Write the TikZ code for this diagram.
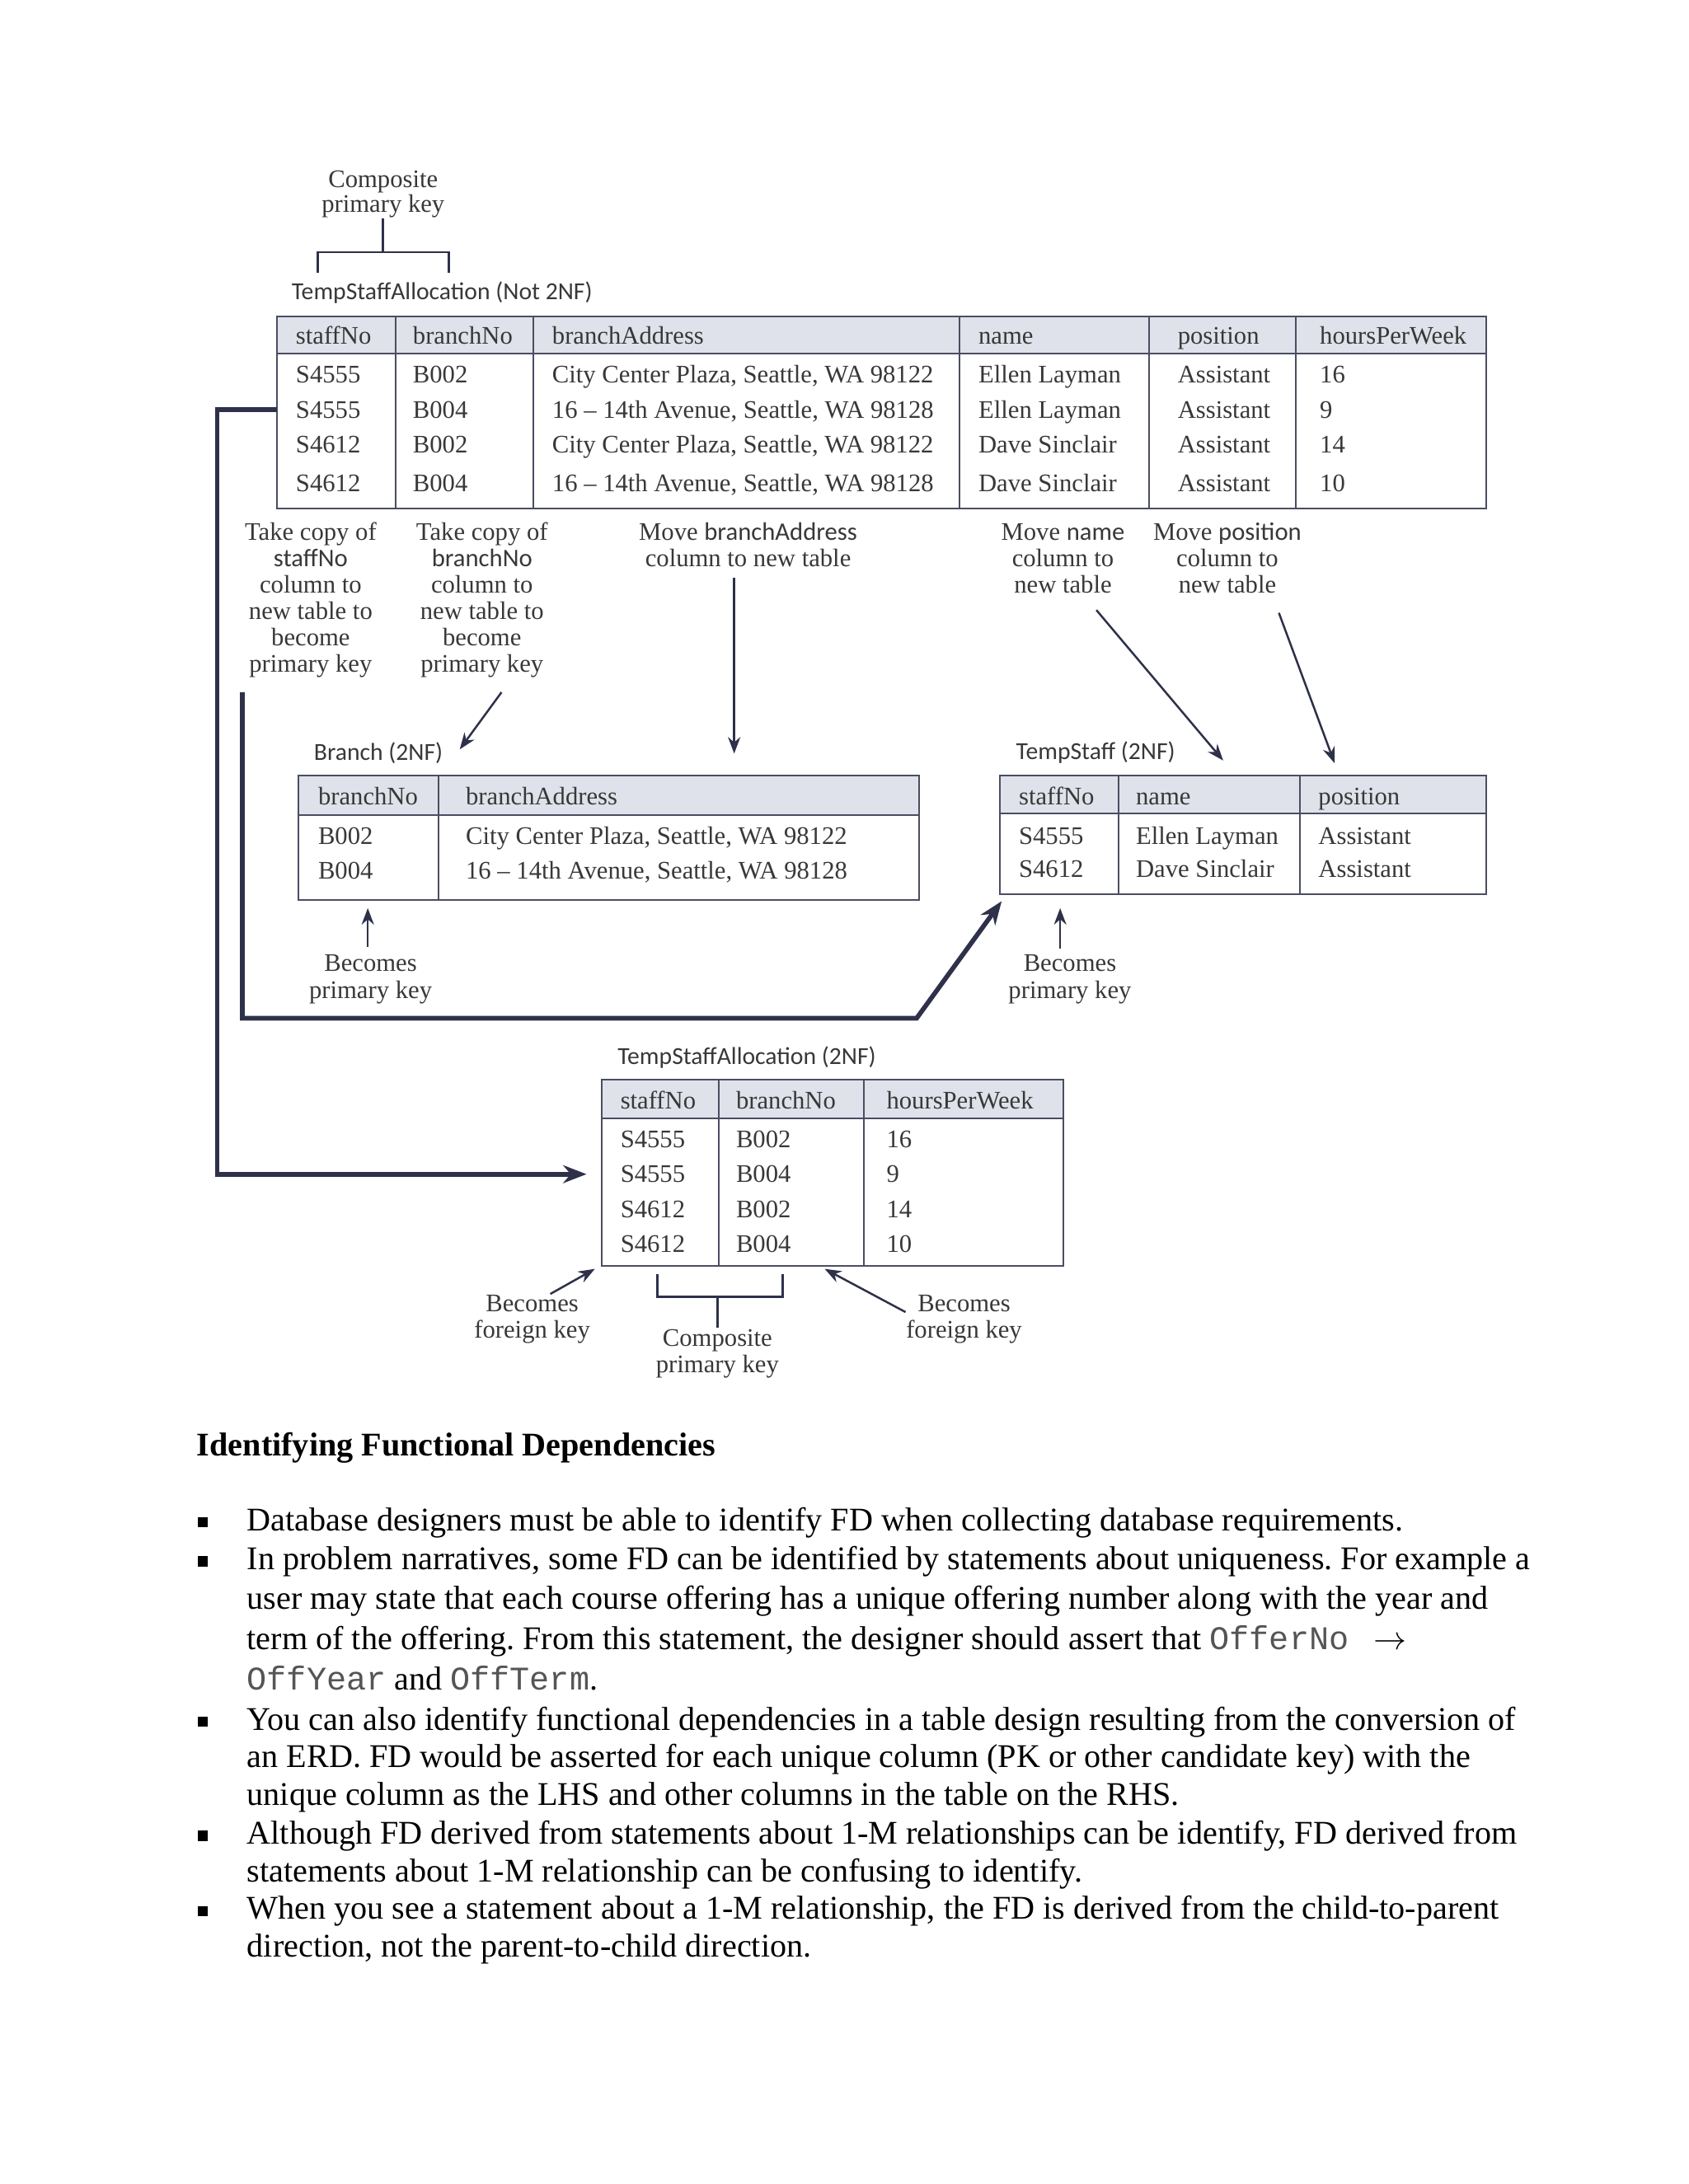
\documentclass[tikz,border=0pt]{standalone}
\usepackage{fontspec}
\setmainfont{Liberation Serif}
\newfontfamily\sansf{Carlito}
\newfontfamily\monof{Liberation Mono}
\usetikzlibrary{arrows.meta}
\definecolor{lnc}{HTML}{2E3149}
\definecolor{tbl}{HTML}{4B4D62}
\definecolor{hdr}{HTML}{DFE2EA}
\definecolor{txc}{HTML}{383838}
\definecolor{monoc}{HTML}{555555}
\frenchspacing
\begin{document}
\begin{tikzpicture}[x=0.507pt,y=-0.507pt,
  dfont/.style={font=\fontsize{9.2pt}{9.63pt}\selectfont},
  cell/.style={anchor=base west,inner sep=0pt,dfont,text=txc},
  ttl/.style={anchor=base west,inner sep=0pt,font=\sansf\fontsize{8.9pt}{9.6pt}\selectfont,text=txc},
  ann/.style={anchor=north,inner sep=0pt,align=center,dfont,text=txc},
  tline/.style={draw=tbl,line width=0.6pt},
  arr/.style={draw=lnc,line width=0.75pt,-{Stealth[length=6pt,width=4.5pt]}},
  thk/.style={draw=lnc,line width=1.7pt},
  thkarr/.style={thk,-{Stealth[length=8.5pt,width=6.5pt]}},
  body/.style={anchor=base west,inner sep=0pt,font=\frenchspacing\fontsize{12.045pt}{14pt}\selectfont,text=black},
  bul/.style={fill=black}
]
\useasboundingbox[fill=white] (0,0) rectangle (1212,1568);

% ---------- top composite key ----------
\node[ann] (ck1) at (275,121.6) {\vphantom{l}Composite\\[-0.6pt]primary key};
\coordinate (ck1s) at (275,157);
\coordinate (ck1m) at (275,181);
\coordinate (ck1l) at (228,196);
\coordinate (ck1r) at (322,196);
\draw[draw=lnc,line width=0.8pt] (ck1s) -- (ck1m);
\draw[draw=lnc,line width=0.8pt] (ck1l) |- (ck1m) -| (ck1r);

% ---------- Table 1 ----------
\node[ttl] (t1t) at (209,215) {TempStaffAllocation (Not 2NF)};
\fill[hdr] (199,227) rectangle (1067,254);
\draw[tline] (199,227) rectangle (1067,365);
\draw[tline] (199,254) -- (1067,254);
\foreach \x in {284,383,689,825,930} \draw[tline] (\x,227) -- (\x,365);
\node[cell] (h11) at (212,247) {staffNo};
\node[cell] (h12) at (296,247) {branchNo};
\node[cell] (h13) at (396,247) {branchAddress};
\node[cell] (h14) at (702,247) {name};
\node[cell] (h15) at (845,247) {position};
\node[cell] (h16) at (947,247) {hoursPerWeek};
\foreach \y/\s/\b/\a/\n/\h in {
 275/S4555/B002/{City Center Plaza, Seattle, WA 98122}/Ellen Layman/16,
 300/S4555/B004/{16 – 14th Avenue, Seattle, WA 98128}/Ellen Layman/9,
 325/S4612/B002/{City Center Plaza, Seattle, WA 98122}/Dave Sinclair/14,
 353/S4612/B004/{16 – 14th Avenue, Seattle, WA 98128}/Dave Sinclair/10}{
  \node[cell] at (212,\y) {\s};
  \node[cell] at (296,\y) {\b};
  \node[cell] at (396,\y) {\a};
  \node[cell] at (702,\y) {\n};
  \node[cell] at (845,\y) {Assistant};
  \node[cell] at (947,\y) {\h};
}

% ---------- annotations under table 1 ----------
\node[ann] (a1) at (223,374.6) {\vphantom{l}Take copy of\\{\sansf staffNo}\\column to\\new table to\\become\\primary key};
\node[ann] (a2) at (346,374.6) {\vphantom{l}Take copy of\\{\sansf branchNo}\\column to\\new table to\\become\\primary key};
\node[ann] (a3) at (537,374.6) {\vphantom{l}Move {\sansf branchAddress}\\column to new table};
\node[ann] (a4) at (763,374.6) {\vphantom{l}Move {\sansf name}\\column to\\new table};
\node[ann] (a5) at (881,374.6) {\vphantom{l}Move {\sansf position}\\column to\\new table};

\coordinate (a2s) at (360,497);  \coordinate (a2e) at (330,538);
\coordinate (a3s) at (527,415);  \coordinate (a3e) at (527,541);
\coordinate (a4s) at (787,438);  \coordinate (a4e) at (878,546);
\coordinate (a5s) at (918,440);  \coordinate (a5e) at (958,548);
\draw[arr] (a2s) -- (a2e);
\draw[arr] (a3s) -- (a3e);
\draw[arr] (a4s) -- (a4e);
\draw[arr] (a5s) -- (a5e);

% ---------- Branch table ----------
\node[ttl] (t2t) at (225,546) {Branch (2NF)};
\fill[hdr] (214,557) rectangle (660,585);
\draw[tline] (214,557) rectangle (660,646);
\draw[tline] (214,585) -- (660,585);
\draw[tline] (315,557) -- (315,646);
\node[cell] at (228,578) {branchNo};
\node[cell] at (334,578) {branchAddress};
\node[cell] at (228,606) {B002};
\node[cell] at (334,606) {City Center Plaza, Seattle, WA 98122};
\node[cell] at (228,631) {B004};
\node[cell] at (334,631) {16 – 14th Avenue, Seattle, WA 98128};

\coordinate (b1s) at (264,680); \coordinate (b1e) at (264,652);
\draw[arr] (b1s) -- (b1e);
\node[ann] (b1) at (266,684.6) {\vphantom{l}Becomes\\primary key};

% ---------- TempStaff table ----------
\node[ttl] (t3t) at (729,545) {TempStaff (2NF)};
\fill[hdr] (718,557) rectangle (1067,584);
\draw[tline] (718,557) rectangle (1067,642);
\draw[tline] (718,584) -- (1067,584);
\draw[tline] (803,557) -- (803,642);
\draw[tline] (933,557) -- (933,642);
\node[cell] at (731,578) {staffNo};
\node[cell] at (815,578) {name};
\node[cell] at (946,578) {position};
\node[cell] at (731,606) {S4555};
\node[cell] at (815,606) {Ellen Layman};
\node[cell] at (946,606) {Assistant};
\node[cell] at (731,630) {S4612};
\node[cell] at (815,630) {Dave Sinclair};
\node[cell] at (946,630) {Assistant};

\coordinate (b2s) at (761,681); \coordinate (b2e) at (761,652);
\draw[arr] (b2s) -- (b2e);
\node[ann] (b2) at (768,684.6) {\vphantom{l}Becomes\\primary key};

% ---------- thick connectors ----------
\coordinate (la0) at (199,294);
\coordinate (la1) at (156,294);
\coordinate (la2) at (156,843);
\coordinate (la3) at (421,843);
\draw[thkarr] (la0) -- (la1) -- (la2) -- (la3);
\coordinate (lb0) at (174,497);
\coordinate (lb1) at (174,731);
\coordinate (lb2) at (658,731);
\coordinate (lb3) at (719,647);
\draw[thkarr] (lb0) -- (lb1) -- (lb2) -- (lb3);

% ---------- Table 3 ----------
\node[ttl] (t4t) at (443,764) {TempStaffAllocation (2NF)};
\fill[hdr] (432,775) rectangle (763,803);
\draw[tline] (432,775) rectangle (763,909);
\draw[tline] (432,803) -- (763,803);
\draw[tline] (516,775) -- (516,909);
\draw[tline] (620,775) -- (620,909);
\node[cell] at (445,796) {staffNo};
\node[cell] at (528,796) {branchNo};
\node[cell] at (636,796) {hoursPerWeek};
\foreach \y/\s/\b/\h in {824/S4555/B002/16,849/S4555/B004/9,874/S4612/B002/14,899/S4612/B004/10}{
  \node[cell] at (445,\y) {\s};
  \node[cell] at (528,\y) {\b};
  \node[cell] at (636,\y) {\h};
}

\coordinate (f1s) at (395,929); \coordinate (f1e) at (427,911);
\draw[arr] (f1s) -- (f1e);
\node[ann] (f1) at (382,928.6) {\vphantom{l}Becomes\\foreign key};
\coordinate (f2s) at (650,942); \coordinate (f2e) at (592,911);
\draw[arr] (f2s) -- (f2e);
\node[ann] (f2) at (692,928.6) {\vphantom{l}Becomes\\foreign key};

\coordinate (ck2l) at (472,915);
\coordinate (ck2r) at (562,915);
\coordinate (ck2m) at (515,931);
\coordinate (ck2s) at (515,953);
\draw[draw=lnc,line width=0.8pt] (ck2l) |- (ck2m) -| (ck2r);
\draw[draw=lnc,line width=0.8pt] (ck2m) -- (ck2s);
\node[ann] (ck2) at (515,953.6) {\vphantom{l}Composite\\primary key};

% ---------- text ----------
\node[anchor=base west,inner sep=0pt,font=\bfseries\fontsize{12.045pt}{14pt}\selectfont] (hd) at (141,1045) {Identifying Functional Dependencies};

\foreach \c in {1093,1121,1236,1318,1372}
  \fill[bul] (142,\c-3.6) rectangle (149.2,\c+3.6);

\node[body] (l1) at (177,1099) {Database designers must be able to identify FD when collecting database requirements.};
\node[body] (l2) at (177,1127) {In problem narratives, some FD can be identified by statements about uniqueness. For example a};
\node[body] (l3) at (177,1155) {user may state that each course offering has a unique offering number along with the year and};
\node[body] (l4) at (177,1184) {term of the offering. From this statement, the designer should assert that {\monof\color{monoc}OfferNo}\hspace{9pt}$\rightarrow$};
\node[body] (l5) at (177,1213) {{\monof\color{monoc}OffYear} and {\monof\color{monoc}OffTerm}.};
\node[body] (l6) at (177,1242) {You can also identify functional dependencies in a table design resulting from the conversion of};
\node[body] (l7) at (177,1269) {an ERD. FD would be asserted for each unique column (PK or other candidate key) with the};
\node[body] (l8) at (177,1296) {unique column as the LHS and other columns in the table on the RHS.};
\node[body] (l9) at (177,1324) {Although FD derived from statements about 1-M relationships can be identify, FD derived from};
\node[body] (l10) at (177,1351) {statements about 1-M relationship can be confusing to identify.};
\node[body] (l11) at (177,1378) {When you see a statement about a 1-M relationship, the FD is derived from the child-to-parent};
\node[body] (l12) at (177,1405) {direction, not the parent-to-child direction.};
\end{tikzpicture}
\end{document}
